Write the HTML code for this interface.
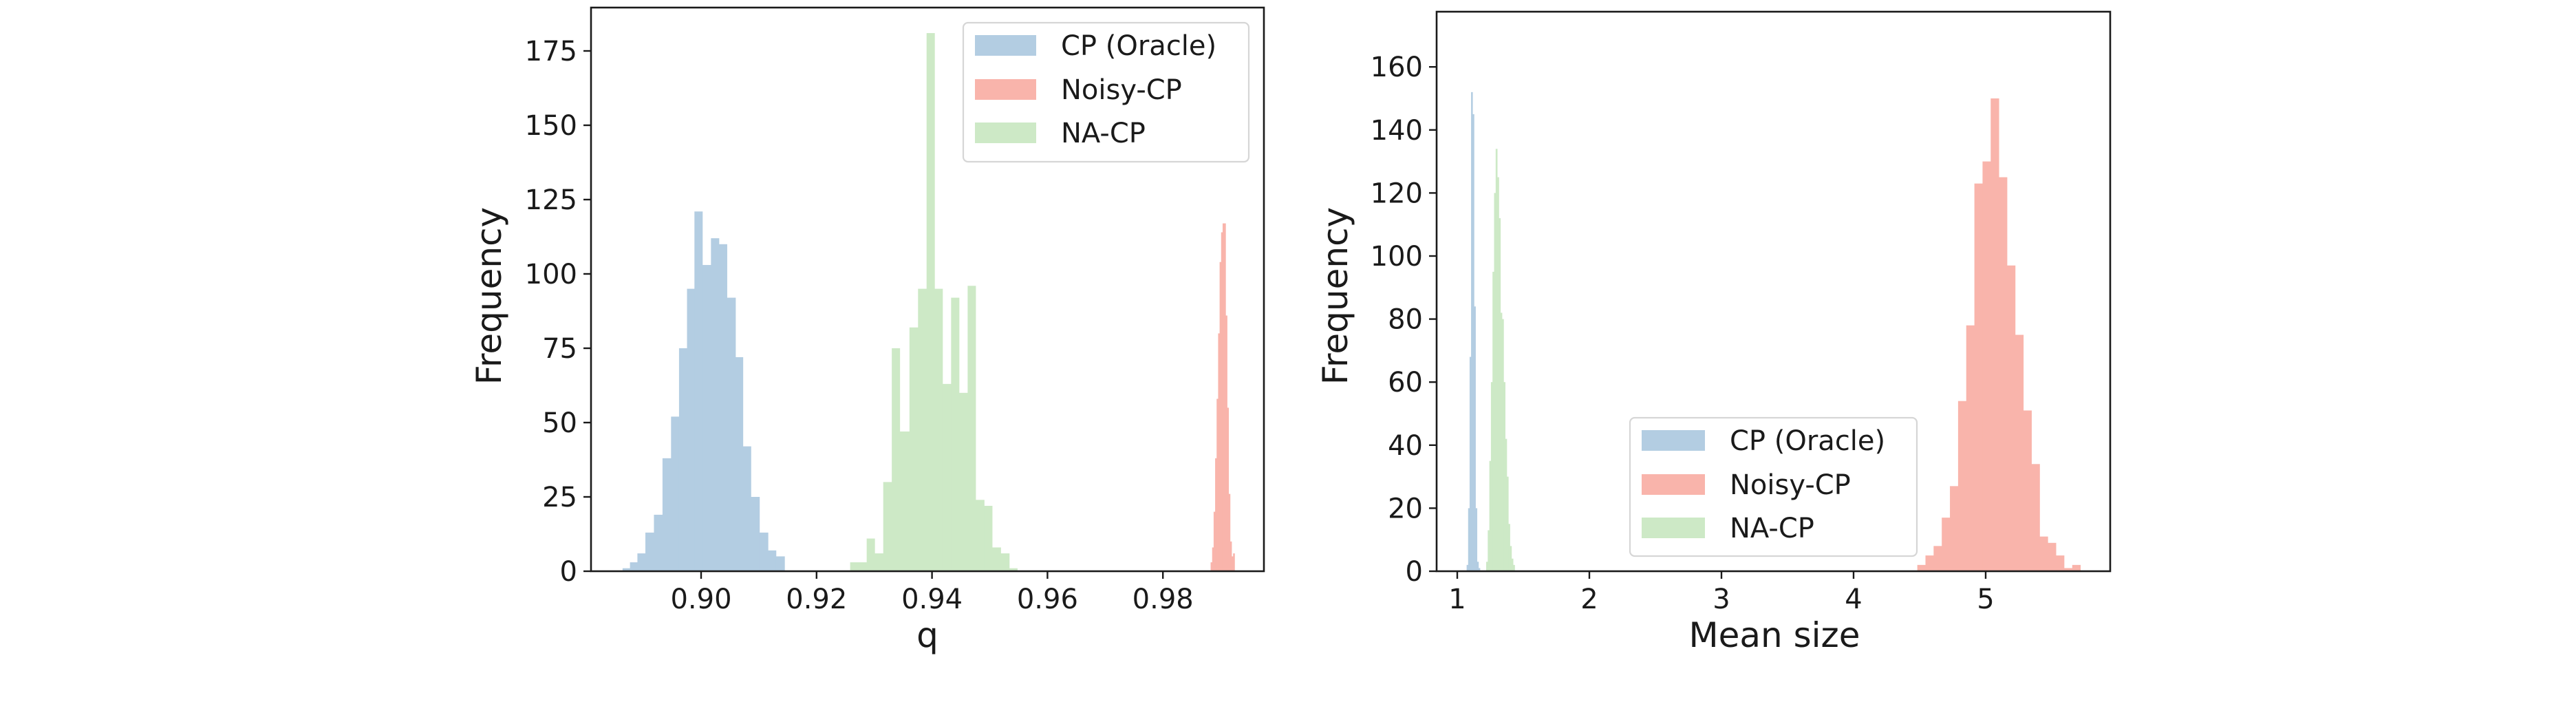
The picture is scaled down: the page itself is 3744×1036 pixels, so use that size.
<!DOCTYPE html>
<html><head><meta charset="utf-8"><style>
html,body{margin:0;padding:0;background:#fff}
svg{display:block}
text{font-family:"DejaVu Sans","Liberation Sans",sans-serif;fill:#1a1a1a}
</style></head><body>
<svg id="s" width="3744" height="1036" xmlns="http://www.w3.org/2000/svg">
<rect width="3744" height="1036" fill="#fff"/>
<g id="bars"></g>
<g id="axes"></g>
</svg>
<script>
const NS="http://www.w3.org/2000/svg";
const bars=document.getElementById('bars'), axes=document.getElementById('axes');
function el(p,tag,a,txt){const e=document.createElementNS(NS,tag);for(const k in a)e.setAttribute(k,a[k]);if(txt!==undefined)e.textContent=txt;p.appendChild(e);return e;}
const BLUE="#b3cde2",RED="#f9b4ab",GREEN="#cde9c6";
function L(col,list){for(const [a,b,v] of list){const x1=652+0.829*a,x2=652+0.829*b;el(bars,'rect',{x:x1,y:830-v*4.32,width:x2-x1+0.4,height:v*4.32,fill:col});}}
L(BLUE,[[305,318,1],[318,331,3],[331,345,6],[345,360,13],[360,375,19],[375,390,38],[390,404,52],[404,418,75],[418,431,95],[431,445,121],[445,460,103],[460,474,112],[474,488,110],[488,503,92],[503,516,72],[516,530,42],[530,545,25],[545,560,13],[560,574,7],[574,589,5]]);
L(GREEN,[[704,733,3],[733,747,11],[747,762,6],[762,777,30],[777,791,75],[791,808,47],[808,823,82],[823,838,95],[838,852,181],[852,866,95],[866,881,63],[881,895,92],[895,910,60],[910,924,96],[924,939,24],[939,953,22],[953,968,8],[968,983,6],[983,997,1]]);
(function(){const h=[3,8,20,38,58,80,104,114,117,117,86,55,26,10,5,6];const w=(1378-1336)/h.length;L(RED,h.map((v,i)=>[1336+i*w,1336+(i+1)*w,v]));})();
function R(col,list){for(const [a,b,v] of list){const x1=1900+0.767*a,x2=1900+0.767*b;el(bars,'rect',{x:x1,y:830-v*4.58,width:x2-x1+0.4,height:v*4.58,fill:col});}}
(function(){const h=[2,20,68,152,145,84,20,3,1];R(BLUE,h.map((v,i)=>[302+i*2.8,302+(i+1)*2.8,v]));})();
(function(){const h=[3,13,35,60,95,120,134,125,112,82,80,60,42,30,15,8,4,2];R(GREEN,h.map((v,i)=>[339+i*3,339+(i+1)*3,v]));})();
(function(){const h=[2,5,8,17,27,54,78,123,130,150,125,97,75,51,34,11,9,5,1,2];R(RED,h.map((v,i)=>[1156+i*15.45,1156+(i+1)*15.45,v]));})();

function frame(x0,x1,y0,y1){el(axes,'rect',{x:x0,y:y0,width:x1-x0,height:y1-y0,fill:'none',stroke:'#1a1a1a','stroke-width':2.6});}
frame(859,1837,11,830);
frame(2088,3067,17,830);
function yt(x0,y,lab){el(axes,'line',{x1:x0-11,x2:x0,y1:y,y2:y,stroke:'#1a1a1a','stroke-width':2.4});el(axes,'text',{x:x0-20,y:y+14,'font-size':40,'text-anchor':'end'},lab);}
function xt(x,y0,lab){el(axes,'line',{x1:x,x2:x,y1:y0,y2:y0+11,stroke:'#1a1a1a','stroke-width':2.4});el(axes,'text',{x:x,y:y0+54,'font-size':40,'text-anchor':'middle'},lab);}
for(let v=0;v<=175;v+=25)yt(859,830-v*4.32,String(v));
['0.90','0.92','0.94','0.96','0.98'].forEach((l,i)=>xt(1019+i*167.8,830,l));
for(let v=0;v<=160;v+=20)yt(2088,830-v*4.58,String(v));
[1,2,3,4,5].forEach((l,i)=>xt(2118+i*192,830,String(l)));
el(axes,'text',{x:0,y:0,'font-size':50,'text-anchor':'middle',transform:'translate(728,430) rotate(-90)'},'Frequency');
el(axes,'text',{x:0,y:0,'font-size':50,'text-anchor':'middle',transform:'translate(1958,430) rotate(-90)'},'Frequency');
el(axes,'text',{x:1348,y:940,'font-size':50,'text-anchor':'middle'},'q');
el(axes,'text',{x:2579,y:940,'font-size':50,'text-anchor':'middle'},'Mean size');
function legend(x0,y0,w,h,px,pw,tx,rows){el(axes,'rect',{x:x0,y:y0,width:w,height:h,rx:7,fill:'#fff','fill-opacity':0.8,stroke:'#d6d6d6','stroke-width':2.2});
 const items=[['CP (Oracle)',BLUE],['Noisy-CP',RED],['NA-CP',GREEN]];
 items.forEach(([t,c],i)=>{const cy=rows[i];el(axes,'rect',{x:px,y:cy-15,width:pw,height:30,fill:c});el(axes,'text',{x:tx,y:cy+14,'font-size':40},t);});}
legend(1400,33,415,202,1417,89,1542,[66,130,193]);
legend(2369,607,417,201,2386,92,2514,[640,704,767]);
</script>
</body></html>
